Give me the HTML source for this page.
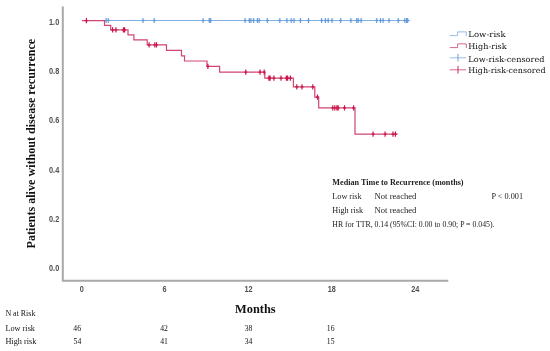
<!DOCTYPE html>
<html><head><meta charset="utf-8"><title>Kaplan-Meier</title>
<style>html,body{margin:0;padding:0;background:#fff;width:550px;height:351px;overflow:hidden}svg{display:block}</style>
</head><body>
<svg width="550" height="351" viewBox="0 0 550 351"><path d="M62.8,6.6 V280.7 H448.3" fill="none" stroke="#a9a9a9" stroke-width="2"/><text transform="translate(59.2,24.9) scale(0.87,1)" text-anchor="end" font-family='"Liberation Sans", sans-serif' font-size="8.4" font-weight="bold" fill="#505050">1.0</text><text transform="translate(59.2,74.1) scale(0.87,1)" text-anchor="end" font-family='"Liberation Sans", sans-serif' font-size="8.4" font-weight="bold" fill="#505050">0.8</text><text transform="translate(59.2,123.3) scale(0.87,1)" text-anchor="end" font-family='"Liberation Sans", sans-serif' font-size="8.4" font-weight="bold" fill="#505050">0.6</text><text transform="translate(59.2,172.5) scale(0.87,1)" text-anchor="end" font-family='"Liberation Sans", sans-serif' font-size="8.4" font-weight="bold" fill="#505050">0.4</text><text transform="translate(59.2,221.8) scale(0.87,1)" text-anchor="end" font-family='"Liberation Sans", sans-serif' font-size="8.4" font-weight="bold" fill="#505050">0.2</text><text transform="translate(59.2,271.2) scale(0.87,1)" text-anchor="end" font-family='"Liberation Sans", sans-serif' font-size="8.4" font-weight="bold" fill="#505050">0.0</text><text transform="translate(81.8,291.8) scale(0.87,1)" text-anchor="middle" font-family='"Liberation Sans", sans-serif' font-size="8.4" font-weight="bold" fill="#505050">0</text><text transform="translate(164.5,291.8) scale(0.87,1)" text-anchor="middle" font-family='"Liberation Sans", sans-serif' font-size="8.4" font-weight="bold" fill="#505050">6</text><text transform="translate(248.5,291.8) scale(0.87,1)" text-anchor="middle" font-family='"Liberation Sans", sans-serif' font-size="8.4" font-weight="bold" fill="#505050">12</text><text transform="translate(331.8,291.8) scale(0.87,1)" text-anchor="middle" font-family='"Liberation Sans", sans-serif' font-size="8.4" font-weight="bold" fill="#505050">18</text><text transform="translate(415.3,291.8) scale(0.87,1)" text-anchor="middle" font-family='"Liberation Sans", sans-serif' font-size="8.4" font-weight="bold" fill="#505050">24</text><path d="M82,20.5 H409.8" fill="none" stroke="#7eafe2" stroke-width="1.2"/><path d="M106.1,17.9v5.2M108.3,17.9v5.2M143.0,17.9v5.2M154.2,17.9v5.2M203.1,17.9v5.2M209.3,17.9v5.2M210.6,17.9v5.2M245.1,17.9v5.2M249.3,17.9v5.2M250.9,17.9v5.2M253.6,17.9v5.2M257.4,17.9v5.2M259.1,17.9v5.2M267.3,17.9v5.2M279.8,17.9v5.2M286.9,17.9v5.2M291.2,17.9v5.2M294.0,17.9v5.2M300.4,17.9v5.2M308.5,17.9v5.2M321.6,17.9v5.2M325.4,17.9v5.2M328.2,17.9v5.2M332.0,17.9v5.2M340.7,17.9v5.2M350.9,17.9v5.2M356.7,17.9v5.2M358.2,17.9v5.2M361.1,17.9v5.2M376.7,17.9v5.2M380.5,17.9v5.2M383.1,17.9v5.2M389.0,17.9v5.2M398.3,17.9v5.2M404.8,17.9v5.2M406.5,17.9v5.2M407.7,17.9v5.2" stroke="#6499dc" stroke-width="1.1"/><path d="M104.7,20.5h2.8M106.9,20.5h2.8M141.6,20.5h2.8M152.8,20.5h2.8M201.7,20.5h2.8M207.9,20.5h2.8M209.2,20.5h2.8M243.7,20.5h2.8M247.9,20.5h2.8M249.5,20.5h2.8M252.2,20.5h2.8M256.0,20.5h2.8M257.7,20.5h2.8M265.9,20.5h2.8M278.4,20.5h2.8M285.5,20.5h2.8M289.8,20.5h2.8M292.6,20.5h2.8M299.0,20.5h2.8M307.1,20.5h2.8M320.2,20.5h2.8M324.0,20.5h2.8M326.8,20.5h2.8M330.6,20.5h2.8M339.3,20.5h2.8M349.5,20.5h2.8M355.3,20.5h2.8M356.8,20.5h2.8M359.7,20.5h2.8M375.3,20.5h2.8M379.1,20.5h2.8M381.7,20.5h2.8M387.6,20.5h2.8M396.9,20.5h2.8M403.4,20.5h2.8M405.1,20.5h2.8M406.3,20.5h2.8" stroke="#6499dc" stroke-width="1.3" opacity="0.8"/><path d="M82.0,20.6 L104.5,20.6 L104.5,25.3 L110.7,25.3 L110.7,29.8 L128.0,29.8 L128.0,34.9 L133.9,34.9 L133.9,39.9 L147.2,39.9 L147.2,44.8 L166.5,44.8 L166.5,50.4 L181.5,50.4 L181.5,55.9 L184.5,55.9 L184.5,61.0 L207.0,61.0 L207.0,66.3 L219.6,66.3 L219.6,72.2 L264.8,72.2 L264.8,78.2 L293.4,78.2 L293.4,86.9 L314.8,86.9 L314.8,97.1 L318.7,97.1 L318.7,107.9 L355.0,107.9 L355.0,134.2 L397.7,134.2" fill="none" stroke="#cf4573" stroke-width="1.2"/><path d="M86.4,18.0v5.2M112.6,27.2v5.2M115.9,27.2v5.2M123.4,27.2v5.2M124.6,27.2v5.2M149.1,42.2v5.2M154.8,42.2v5.2M156.5,42.2v5.2M207.9,63.7v5.2M245.8,69.6v5.2M260.0,69.6v5.2M264.2,69.6v5.2M268.9,75.6v5.2M270.1,75.6v5.2M273.9,75.6v5.2M281.0,75.6v5.2M286.4,75.6v5.2M287.6,75.6v5.2M290.4,75.6v5.2M296.8,84.3v5.2M302.0,84.3v5.2M312.8,84.3v5.2M317.5,94.5v5.2M332.8,105.3v5.2M334.8,105.3v5.2M336.9,105.3v5.2M338.2,105.3v5.2M344.5,105.3v5.2M353.6,105.3v5.2M373.1,131.6v5.2M385.1,131.6v5.2M393.0,131.6v5.2M395.4,131.6v5.2" stroke="#cc1548" stroke-width="1.2"/><path d="M84.9,20.6h3.0M111.1,29.8h3.0M114.4,29.8h3.0M121.9,29.8h3.0M123.1,29.8h3.0M147.6,44.8h3.0M153.3,44.8h3.0M155.0,44.8h3.0M206.4,66.3h3.0M244.3,72.2h3.0M258.5,72.2h3.0M262.7,72.2h3.0M267.4,78.2h3.0M268.6,78.2h3.0M272.4,78.2h3.0M279.5,78.2h3.0M284.9,78.2h3.0M286.1,78.2h3.0M288.9,78.2h3.0M295.3,86.9h3.0M300.5,86.9h3.0M311.3,86.9h3.0M316.0,97.1h3.0M331.3,107.9h3.0M333.3,107.9h3.0M335.4,107.9h3.0M336.7,107.9h3.0M343.0,107.9h3.0M352.1,107.9h3.0M371.6,134.2h3.0M383.6,134.2h3.0M391.5,134.2h3.0M393.9,134.2h3.0" stroke="#cc1548" stroke-width="1.2"/><text transform="translate(34.8,248.4) rotate(-90)" font-family='"Liberation Serif", serif' font-weight="bold" font-size="12" fill="#111" textLength="209.6" lengthAdjust="spacingAndGlyphs">Patients alive without disease recurrence</text><text x="235.1" y="312.6" font-family='"Liberation Serif", serif' font-weight="bold" font-size="13" fill="#111" textLength="40.6" lengthAdjust="spacingAndGlyphs">Months</text><text x="5.4" y="316.4" font-family='"Liberation Serif", serif' font-size="8.1" fill="#111" textLength="30.0" lengthAdjust="spacingAndGlyphs">N at Risk</text><text x="5.4" y="330.6" font-family='"Liberation Serif", serif' font-size="8.1" fill="#111" textLength="29.6" lengthAdjust="spacingAndGlyphs">Low risk</text><text x="5.4" y="344.1" font-family='"Liberation Serif", serif' font-size="8.1" fill="#111" textLength="31.0" lengthAdjust="spacingAndGlyphs">High risk</text><text x="77.2" y="330.6" font-family='"Liberation Serif", serif' font-size="7.7" fill="#111" text-anchor="middle">46</text><text x="77.4" y="344.3" font-family='"Liberation Serif", serif' font-size="7.7" fill="#111" text-anchor="middle">54</text><text x="164" y="330.6" font-family='"Liberation Serif", serif' font-size="7.7" fill="#111" text-anchor="middle">42</text><text x="164" y="344.3" font-family='"Liberation Serif", serif' font-size="7.7" fill="#111" text-anchor="middle">41</text><text x="248.5" y="330.6" font-family='"Liberation Serif", serif' font-size="7.7" fill="#111" text-anchor="middle">38</text><text x="248.5" y="344.3" font-family='"Liberation Serif", serif' font-size="7.7" fill="#111" text-anchor="middle">34</text><text x="330.7" y="330.6" font-family='"Liberation Serif", serif' font-size="7.7" fill="#111" text-anchor="middle">16</text><text x="330.7" y="344.3" font-family='"Liberation Serif", serif' font-size="7.7" fill="#111" text-anchor="middle">15</text><text x="332.3" y="184.6" font-family='"Liberation Serif", serif' font-size="8.5" fill="#222" textLength="131.3" lengthAdjust="spacingAndGlyphs" font-weight="bold">Median Time to Recurrence (months)</text><text x="332.3" y="198.9" font-family='"Liberation Serif", serif' font-size="8.5" fill="#222" textLength="29.3" lengthAdjust="spacingAndGlyphs">Low risk</text><text x="374.6" y="198.9" font-family='"Liberation Serif", serif' font-size="8.5" fill="#222" textLength="41.8" lengthAdjust="spacingAndGlyphs">Not reached</text><text x="491.5" y="198.9" font-family='"Liberation Serif", serif' font-size="8.5" fill="#222" textLength="31.5" lengthAdjust="spacingAndGlyphs">P &lt; 0.001</text><text x="332.3" y="212.6" font-family='"Liberation Serif", serif' font-size="8.5" fill="#222" textLength="30.8" lengthAdjust="spacingAndGlyphs">High risk</text><text x="374.6" y="212.6" font-family='"Liberation Serif", serif' font-size="8.5" fill="#222" textLength="41.8" lengthAdjust="spacingAndGlyphs">Not reached</text><text x="332.3" y="226.8" font-family='"Liberation Serif", serif' font-size="8.5" fill="#222" textLength="162.2" lengthAdjust="spacingAndGlyphs">HR for TTR, 0.14 (95%CI: 0.00 to 0.90; P = 0.045).</text><path d="M449.7,35.6 H457.6 V31.9 H466.3 V36.0" fill="none" stroke="#98bbe4" stroke-width="1"/><path d="M449.7,47.6 H457.6 V43.9 H466.3 V48.0" fill="none" stroke="#d5688e" stroke-width="1"/><path d="M449.7,57.8 H466.2" fill="none" stroke="#98bbe4" stroke-width="1"/><path d="M458,54 V61.5" fill="none" stroke="#7ea6dc" stroke-width="1.1"/><path d="M449.7,69.8 H466.2" fill="none" stroke="#d5688e" stroke-width="1"/><path d="M458,66.1 V73.6" fill="none" stroke="#cc3a66" stroke-width="1.1"/><text x="468.3" y="36.9" font-family='"DejaVu Serif", "Liberation Serif", serif' font-size="7.8" fill="#111" textLength="37.4" lengthAdjust="spacingAndGlyphs">Low-risk</text><text x="468.3" y="48.5" font-family='"DejaVu Serif", "Liberation Serif", serif' font-size="7.8" fill="#111" textLength="38.4" lengthAdjust="spacingAndGlyphs">High-risk</text><text x="468.3" y="61.5" font-family='"DejaVu Serif", "Liberation Serif", serif' font-size="7.8" fill="#111" textLength="76.2" lengthAdjust="spacingAndGlyphs">Low-risk-censored</text><text x="468.3" y="73.2" font-family='"DejaVu Serif", "Liberation Serif", serif' font-size="7.8" fill="#111" textLength="77.2" lengthAdjust="spacingAndGlyphs">High-risk-censored</text></svg>
</body></html>
